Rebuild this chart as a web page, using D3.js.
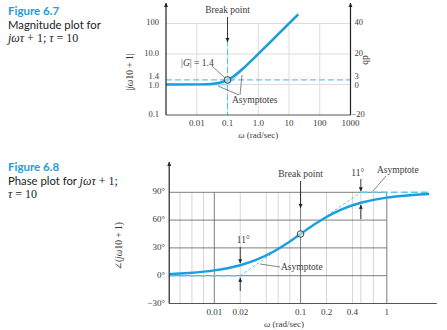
<!DOCTYPE html>
<html><head><meta charset="utf-8">
<script src="https://cdn.jsdelivr.net/npm/d3@7"></script>
<style>body{margin:0;background:#fff} svg{display:block}</style>
</head><body><svg id="fig" width="447" height="330"></svg>
<script>
// ---- Figure 6.7: magnitude of jωτ + 1, τ = 10 ----
const magFreq  = [0.001, 0.01, 0.02, 0.03, 0.05, 0.07, 0.1, 0.15, 0.2, 0.3, 0.5, 0.7, 1, 2, 5, 10, 20];
const magValue = [1.0, 1.005, 1.02, 1.04, 1.12, 1.22, 1.41, 1.8, 2.24, 3.16, 5.1, 7.07, 10.05, 20, 50, 100, 200];
const magAsymFreq  = [0.001, 0.1, 20];
const magAsymValue = [1, 1, 200];
const magGridY = [1, 10, 100];
const magTicks = [0.1, 1.0, 1.4, 10, 100];
const magTickLabels = ["0.1", "1.0", "1.4", "10.0", "100"];
const dbTicks = [-20, 0, 3, 20, 40];
const dbTickLabels = ["\u221220", "0", "3", "20", "40"];
const topFreqTicks = [0.01, 0.1, 1, 10, 100, 1000];
const topFreqLabels = ["0.01", "0.1", "1.0", "10", "100", "1000"];
const breakFreq = 0.1;
const breakMag = 1.41;

// ---- Figure 6.8: phase of jωτ + 1, τ = 10 ----
const phaseFreq = [0.003, 0.005, 0.01, 0.02, 0.03, 0.05, 0.07, 0.1, 0.15, 0.2, 0.3, 0.5, 0.7, 1, 2, 3.1];
const phaseDeg  = [1.7, 2.9, 5.7, 11.3, 16.7, 26.6, 35, 45, 56.3, 63.4, 71.6, 78.7, 81.9, 84.3, 87.1, 88.2];
const phaseAsymFreq = [0.003, 0.02, 0.5, 3.1];
const phaseAsymDeg  = [0, 0, 90, 90];
const phaseTicks = [-30, 0, 30, 60, 90];
const phaseTickLabels = ["\u221230\u00b0", "0\u00b0", "30\u00b0", "60\u00b0", "90\u00b0"];
const phaseMajorFreq = [0.01, 0.1, 1];
const phaseMinorFreq = [0.004, 0.0055, 0.0075, 0.02, 0.04, 0.055, 0.075, 0.2, 0.4, 0.5, 0.7];
const phaseFreqTicks = [0.01, 0.02, 0.1, 0.2, 0.4, 1];
const phaseFreqLabels = ["0.01", "0.02", "0.1", "0.2", "0.4", "1"];
const breakPhase = 45;
const errFreqLow = 0.02, errFreqHigh = 0.5;
const errPhaseLow = 11.3, errPhaseHigh = 78.7;

const BLUE = "#1a9ee0", LIGHT = "#5cc6f0", PALE = "#9fdaf5";
const TEXT = "#3a3a3a", AXIS = "#555", SERIF = "'Liberation Serif','DejaVu Serif',serif";
const SANS = "Lato,'Noto Sans',sans-serif";

const svg = d3.select("#fig");
const defs = svg.append("defs");
defs.append("marker").attr("id", "ah").attr("viewBox", "0 0 6 6")
  .attr("refX", 6).attr("refY", 3).attr("markerWidth", 4).attr("markerHeight", 4.5)
  .attr("markerUnits", "userSpaceOnUse").attr("orient", "auto")
  .append("path").attr("d", "M0,0L6,3L0,6Z").attr("fill", "#222");

function arrow(g, x1, y1, x2, y2, w) {
  g.append("line").attr("x1", x1).attr("y1", y1).attr("x2", x2).attr("y2", y2)
    .attr("stroke", "#222").attr("stroke-width", w || 0.9).attr("marker-end", "url(#ah)");
}
function leader(g, x1, y1, x2, y2) {
  g.append("line").attr("x1", x1).attr("y1", y1).attr("x2", x2).attr("y2", y2)
    .attr("stroke", "#666").attr("stroke-width", 0.8);
}
function label(g, x, y, txt, opts) {
  opts = opts || {};
  return g.append("text").attr("x", x).attr("y", y).text(txt)
    .attr("font-family", opts.family || SERIF).attr("font-size", opts.size || 9.5)
    .attr("fill", TEXT).attr("text-anchor", opts.anchor || "start")
    .attr("dominant-baseline", opts.base || "auto");
}

// ---------- captions ----------
function caption(y, title, lines) {
  const g = svg.append("g");
  g.append("text").attr("x", 8).attr("y", y).text(title)
    .attr("font-family", SANS).attr("font-weight", "bold").attr("font-size", 11.5).attr("fill", "#2a9ad6");
  lines.forEach((parts, i) => {
    const t = g.append("text").attr("x", 8).attr("y", y + 14 + i * 12.5)
      .attr("fill", "#222");
    parts.forEach(p => {
      t.append("tspan").text(p[0])
        .attr("font-family", p[1] ? SERIF : SANS)
        .attr("font-size", p[1] ? 12 : 11.3)
        .attr("font-style", p[1] === "i" ? "italic" : "normal");
    });
  });
}
caption(15, "Figure 6.7", [
  [["Magnitude plot for", 0]],
  [["j\u03c9\u03c4", "i"], [" + 1; ", "r"], ["\u03c4", "i"], [" = 10", "r"]]
]);
caption(171, "Figure 6.8", [
  [["Phase plot for ", 0], ["j\u03c9\u03c4", "i"], [" + 1;", "r"]],
  [["\u03c4", "i"], [" = 10", "r"]]
]);

// ---------- magnitude plot ----------
const xM = d3.scaleLog().domain([0.001, 1000]).range([166, 350.5]);
const yM = d3.scaleLog().domain([0.1, 400]).range([115, 5.1]);
const yDb = d3.scaleLinear().domain([-20, 20 * Math.log10(400)]).range([115, 5.1]);
const gM = svg.append("g");

// grid
gM.selectAll(".gy").data(magGridY).join("line")
  .attr("x1", xM(0.001)).attr("x2", xM(1000)).attr("y1", d => yM(d)).attr("y2", d => yM(d))
  .attr("stroke", "#dcdcdc").attr("stroke-width", 1);
gM.selectAll(".gx").data(topFreqTicks.slice(0, 5)).join("line")
  .attr("x1", d => xM(d)).attr("x2", d => xM(d)).attr("y1", yM(0.1)).attr("y2", yM(100))
  .attr("stroke", "#dcdcdc").attr("stroke-width", 1);

// asymptotes, dashed guides
const lineM = d3.line().x(d => xM(d[0])).y(d => yM(d[1]));
gM.append("path").attr("d", lineM(d3.zip(magAsymFreq, magAsymValue)))
  .attr("fill", "none").attr("stroke", PALE).attr("stroke-width", 2.2);
gM.append("line").attr("x1", xM(0.001)).attr("x2", xM(1000))
  .attr("y1", yM(breakMag)).attr("y2", yM(breakMag))
  .attr("stroke", LIGHT).attr("stroke-width", 1.2).attr("stroke-dasharray", "6,3");
gM.append("line").attr("x1", xM(breakFreq)).attr("x2", xM(breakFreq))
  .attr("y1", 40).attr("y2", yM(0.1))
  .attr("stroke", LIGHT).attr("stroke-width", 1.2).attr("stroke-dasharray", "6,3");

// curve
gM.append("path")
  .attr("d", d3.line().x(d => xM(d[0])).y(d => yM(d[1])).curve(d3.curveMonotoneX)(d3.zip(magFreq, magValue)))
  .attr("fill", "none").attr("stroke", BLUE).attr("stroke-width", 2.4);
gM.append("circle").attr("cx", xM(breakFreq)).attr("cy", yM(breakMag)).attr("r", 3.3)
  .attr("fill", "#d8eef8").attr("fill-opacity", 0.6).attr("stroke", "#333").attr("stroke-width", 0.9);

// axes
gM.append("line").attr("x1", xM(0.001)).attr("x2", xM(1000)).attr("y1", yM(0.1)).attr("y2", yM(0.1))
  .attr("stroke", AXIS).attr("stroke-width", 1.2);
arrow(gM, xM(0.001), yM(0.1), xM(0.001), 3, 1.2);
arrow(gM, xM(1000), yM(0.1), xM(1000), 3, 1.2);

// the 1.4 / 1.0 and 3 / 0 labels sit close together, so nudge them apart
const nudge = v => (v === 1.4 || v === 3) ? -3 : (v === 1.0 || v === 0) ? 1.5 : 0;
magTicks.forEach((v, i) => label(gM, 159, yM(v) + nudge(v), magTickLabels[i], { anchor: "end", base: "middle", size: 8.5 }));
dbTicks.forEach((v, i) => label(gM, xM(1000) + (v < 0 ? 1 : 4), yDb(v) + nudge(v), dbTickLabels[i], { base: "middle", size: 8.5 }));
topFreqTicks.forEach((v, i) => label(gM, xM(v), 126, topFreqLabels[i], { anchor: "middle", size: 9 }));
const xtM = label(gM, xM(1), 138, "", { anchor: "middle", size: 9 });
xtM.append("tspan").text("\u03c9").attr("font-style", "italic");
xtM.append("tspan").text(" (rad/sec)");

const ytM = gM.append("text").attr("transform", "translate(133,72) rotate(-90)")
  .attr("text-anchor", "middle").attr("font-family", SERIF).attr("font-size", 9.5).attr("fill", TEXT);
ytM.append("tspan").text("|");
ytM.append("tspan").text("j\u03c9").attr("font-style", "italic");
ytM.append("tspan").text("10 + 1|");
gM.append("text").attr("transform", "translate(363,60) rotate(90)")
  .attr("text-anchor", "middle").attr("font-family", SERIF).attr("font-size", 9.5).attr("fill", TEXT).text("db");

// annotations
label(gM, xM(breakFreq), 13, "Break point", { anchor: "middle", size: 9.5 });
arrow(gM, xM(breakFreq), 17, xM(breakFreq), 42);
const gl = label(gM, 181, 66, "", { size: 9.5 });
gl.append("tspan").text("|");
gl.append("tspan").text("G").attr("font-style", "italic");
gl.append("tspan").text("| = 1.4");
leader(gM, 212, 66, xM(breakFreq) - 2.5, yM(breakMag) - 2);
label(gM, 232, 103, "Asymptotes", { size: 9.5 });
leader(gM, 239, 95, 218, 86);
leader(gM, 240, 95, 242, 75);

// ---------- phase plot ----------
const xP = d3.scaleLog().domain([0.01, 1]).range([214.3, 386.8]);
const yP = d3.scaleLinear().domain([-30, 90]).range([303.5, 192.3]);
const gP = svg.append("g");
const left = xP(0.003), right = xP(3.8);

gP.selectAll(".mn").data(phaseMinorFreq).join("line")
  .attr("x1", d => xP(d)).attr("x2", d => xP(d)).attr("y1", yP(-30)).attr("y2", yP(90))
  .attr("stroke", "#d6d6d6").attr("stroke-width", 1);
gP.selectAll(".mj").data(phaseMajorFreq).join("line")
  .attr("x1", d => xP(d)).attr("x2", d => xP(d)).attr("y1", yP(-30)).attr("y2", yP(90))
  .attr("stroke", "#6e6e6e").attr("stroke-width", 0.9);
gP.selectAll(".hy").data(phaseTicks.slice(1)).join("line")
  .attr("x1", left).attr("x2", xP(1)).attr("y1", d => yP(d)).attr("y2", d => yP(d))
  .attr("stroke", "#6e6e6e").attr("stroke-width", 0.9);

// asymptote
const aP = d3.zip(phaseAsymFreq, phaseAsymDeg);
const lineP = d3.line().x(d => xP(d[0])).y(d => yP(d[1]));
gP.append("path").attr("d", lineP(aP.slice(0, 2)))
  .attr("fill", "none").attr("stroke", LIGHT).attr("stroke-width", 1.5).attr("stroke-dasharray", "7,3");
gP.append("path").attr("d", lineP(aP.slice(2, 4)))
  .attr("fill", "none").attr("stroke", LIGHT).attr("stroke-width", 1.5).attr("stroke-dasharray", "7,3");
gP.append("path").attr("d", lineP(aP.slice(1, 3)))
  .attr("fill", "none").attr("stroke", LIGHT).attr("stroke-width", 1).attr("stroke-dasharray", "3,2");

// curve
gP.append("path")
  .attr("d", d3.line().x(d => xP(d[0])).y(d => yP(d[1])).curve(d3.curveMonotoneX)(d3.zip(phaseFreq, phaseDeg)))
  .attr("fill", "none").attr("stroke", BLUE).attr("stroke-width", 2.4);
gP.append("circle").attr("cx", xP(breakFreq)).attr("cy", yP(breakPhase)).attr("r", 3.3)
  .attr("fill", "#d8eef8").attr("fill-opacity", 0.6).attr("stroke", "#333").attr("stroke-width", 0.9);

// axes
gP.append("line").attr("x1", left).attr("x2", right).attr("y1", yP(-30)).attr("y2", yP(-30))
  .attr("stroke", AXIS).attr("stroke-width", 1.2);
arrow(gP, left, yP(-30), left, 162, 1.2);

phaseTicks.forEach((v, i) => label(gP, 165, yP(v), phaseTickLabels[i], { anchor: "end", base: "middle", size: 9 }));
phaseFreqTicks.forEach((v, i) => label(gP, xP(v), 315, phaseFreqLabels[i], { anchor: "middle", size: 9 }));
const xtP = label(gP, 284, 327, "", { anchor: "middle", size: 9 });
xtP.append("tspan").text("\u03c9").attr("font-style", "italic");
xtP.append("tspan").text(" (rad/sec)");
const ytP = gP.append("text").attr("transform", "translate(122,246) rotate(-90)")
  .attr("text-anchor", "middle").attr("font-family", SERIF).attr("font-size", 9.5).attr("fill", TEXT);
ytP.append("tspan").text("\u2220(");
ytP.append("tspan").text("j\u03c9").attr("font-style", "italic");
ytP.append("tspan").text("10 + 1)");

// annotations
label(gP, xP(breakFreq), 177, "Break point", { anchor: "middle", size: 9.5 });
arrow(gP, xP(breakFreq), 181, xP(breakFreq), 208);
label(gP, xP(errFreqHigh) - 3, 176, "11\u00b0", { anchor: "middle", size: 9.5 });
arrow(gP, xP(errFreqHigh), 179, xP(errFreqHigh), yP(90) - 1);
arrow(gP, xP(errFreqHigh), 219, xP(errFreqHigh), yP(errPhaseHigh) + 2);
label(gP, xP(errFreqLow) + 3, 243, "11\u00b0", { anchor: "middle", size: 9.5 });
arrow(gP, xP(errFreqLow), 247, xP(errFreqLow), yP(errPhaseLow) - 2);
arrow(gP, xP(errFreqLow), 291, xP(errFreqLow), yP(0) + 2);
label(gP, 281, 270, "Asymptote", { size: 9.5 });
leader(gP, 260, 264, 280, 267);
label(gP, 377, 173, "Asymptote", { size: 9.5 });
leader(gP, 373, 191, 386, 176);
</script>
</body></html>
